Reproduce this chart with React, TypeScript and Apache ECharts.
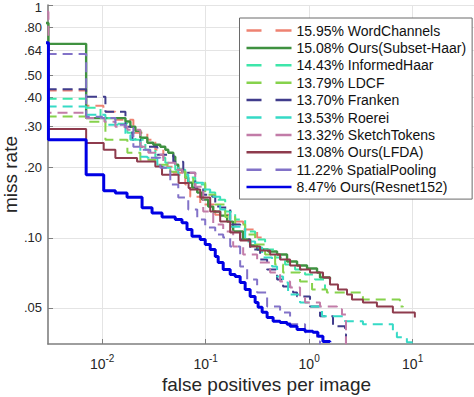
import React, { useEffect, useRef } from "react";
import * as echarts from "echarts";

const FONT = "'Liberation Sans', Arial, Helvetica, sans-serif";

// Methods in legend order, with log-average miss rates
const methods = [
  "WordChannels",
  "Ours(Subset-Haar)",
  "InformedHaar",
  "LDCF",
  "Franken",
  "Roerei",
  "SketchTokens",
  "Ours(LFDA)",
  "SpatialPooling",
  "Ours(Resnet152)",
];
const missRates = ["15.95%", "15.08%", "14.43%", "13.79%", "13.70%", "13.53%", "13.32%", "13.08%", "11.22%", "8.47%"];
const colors = ["#ee8272", "#3f9140", "#3ee6aa", "#86d24c", "#403c8c", "#36dac6", "#c27ca8", "#8e3b4d", "#8272c8", "#0000e4"];
const dashed = [true, false, true, true, true, true, true, false, true, false];
const widths = [2, 2.4, 2, 2, 2, 2, 2, 2, 2, 3];

// [false positives per image, miss rate] stair corners
const wordChannels = [
  [0.001, 0.429], [0.00701, 0.3691], [0.01029, 0.3478], [0.01343, 0.3214], [0.02004, 0.2827], [0.02734, 0.2638],
  [0.03266, 0.239], [0.03902, 0.2209], [0.04264, 0.2021], [0.04872, 0.1905], [0.06357, 0.1693], [0.07104, 0.1503],
  [0.0887, 0.1389], [0.1238, 0.1258], [0.1727, 0.1174], [0.2305, 0.1085], [0.3145, 0.1003], [0.3755, 0.0983],
];
const subsetHaar = [
  [0.001, 0.837], [0.00303, 0.681], [0.00701, 0.3268], [0.0168, 0.3161], [0.01875, 0.2999], [0.02096, 0.2884],
  [0.0234, 0.2692], [0.02734, 0.2562], [0.03124, 0.2512], [0.0365, 0.2461], [0.04077, 0.239], [0.04356, 0.232],
  [0.04872, 0.2231], [0.0509, 0.2062], [0.05445, 0.1963], [0.05947, 0.1924], [0.06357, 0.1814], [0.06797, 0.1726],
  [0.0743, 0.1643], [0.08299, 0.1564], [0.09273, 0.1459], [0.1059, 0.1362], [0.1184, 0.1296], [0.1382, 0.1246],
  [0.1614, 0.1174], [0.1845, 0.1064], [0.2305, 0.0983], [0.2692, 0.0927], [0.3148, 0.0891], [0.4019, 0.0874],
  [0.49, 0.0848], [0.6118, 0.0791], [0.7643, 0.0761], [0.9546, 0.0739], [1.192, 0.071], [1.274, 0.0676], [1.59, 0.0663],
];
const informedHaar = [
  [0.001, 0.3955], [0.00701, 0.3618], [0.00965, 0.3268], [0.01343, 0.309], [0.01754, 0.2827], [0.02095, 0.2638],
  [0.02616, 0.239], [0.03266, 0.2209], [0.04077, 0.2103], [0.0509, 0.1963], [0.06357, 0.1814], [0.07936, 0.1693],
  [0.0991, 0.1564], [0.1238, 0.1459], [0.1545, 0.1296], [0.1929, 0.1198], [0.2409, 0.1064], [0.3008, 0.0983],
  [0.3755, 0.0891], [0.4691, 0.0823], [0.5856, 0.0768], [0.7311, 0.0731], [0.913, 0.0696], [1.14, 0.0663], [1.423, 0.06],
];
const ldcf = [
  [0.001, 0.332], [0.00701, 0.3151], [0.01076, 0.2638], [0.01754, 0.232], [0.0234, 0.2166], [0.03266, 0.2062],
  [0.04556, 0.1924], [0.06357, 0.1814], [0.07591, 0.1726], [0.0991, 0.1533], [0.1238, 0.1389], [0.1545, 0.123],
  [0.1929, 0.114], [0.2409, 0.1033], [0.3008, 0.0936], [0.3755, 0.0848], [0.4691, 0.0768], [0.5601, 0.071],
  [0.817, 0.065], [1.067, 0.06], [1.485, 0.0583], [3.31, 0.0544], [7.527, 0.0507], [8.045, 0.0503],
];
const franken = [
  [0.001, 0.435], [0.00701, 0.4034], [0.01076, 0.3478], [0.0168, 0.2999], [0.0196, 0.2638], [0.0234, 0.2461],
  [0.03414, 0.2275], [0.04872, 0.2124], [0.06081, 0.1905], [0.07936, 0.1643], [0.09482, 0.1533], [0.1158, 0.1503],
  [0.1238, 0.1362], [0.1382, 0.1349], [0.1727, 0.114], [0.2156, 0.0983], [0.2692, 0.0891], [0.336, 0.0807],
  [0.3927, 0.0731], [0.4902, 0.0663], [0.5601, 0.0618], [0.6996, 0.0583], [0.7643, 0.056], [1.02, 0.0507],
  [1.274, 0.046], [1.701, 0.0417], [2.219, 0.0385], [2.269, 0.0349],
];
const roerei = [
  [0.001, 0.3665], [0.00701, 0.3377], [0.01076, 0.3059], [0.0168, 0.2772], [0.01875, 0.2638], [0.0234, 0.2231],
  [0.02734, 0.2209], [0.03414, 0.2062], [0.03902, 0.2001], [0.05442, 0.1867], [0.06796, 0.1726], [0.09482, 0.1611],
  [0.1107, 0.1503], [0.1382, 0.1322], [0.1727, 0.1117], [0.2409, 0.0964], [0.3008, 0.0909], [0.3515, 0.0823],
  [0.4387, 0.0753], [0.4902, 0.0683], [0.5601, 0.0643], [0.626, 0.0571], [0.817, 0.0528], [1.02, 0.0507],
  [1.332, 0.046], [2.219, 0.0438], [3.31, 0.0425], [6.442, 0.0393], [7.041, 0.0374], [8.794, 0.0356], [9.824, 0.0349],
];
const sketchTokens = [
  [0.001, 0.936], [0.00303, 0.3444], [0.00701, 0.3268], [0.01052, 0.3151], [0.01343, 0.2999], [0.01754, 0.2912],
  [0.0234, 0.2461], [0.02795, 0.232], [0.03266, 0.2275], [0.03902, 0.2103], [0.0509, 0.1963], [0.05947, 0.1905],
  [0.07936, 0.1659], [0.09482, 0.1296], [0.1184, 0.114], [0.1478, 0.1064], [0.1845, 0.0918], [0.2305, 0.0848],
  [0.3145, 0.0784], [0.4198, 0.071], [0.524, 0.065], [0.6544, 0.0612], [0.817, 0.056], [0.913, 0.0528],
  [1.274, 0.0507], [1.858, 0.0493], [2.077, 0.0469], [2.269, 0.0349],
];
const lfda = [
  [0.001, 0.2932], [0.00701, 0.2554], [0.01036, 0.239], [0.01343, 0.2203], [0.02175, 0.213], [0.03266, 0.2027],
  [0.03791, 0.1867], [0.05479, 0.1721], [0.06843, 0.1638], [0.07104, 0.1611], [0.0887, 0.1489], [0.1107, 0.1296],
  [0.1382, 0.1174], [0.1727, 0.1054], [0.2156, 0.0973], [0.2692, 0.0918], [0.336, 0.0882], [0.4198, 0.0848],
  [0.524, 0.0807], [0.6544, 0.0761], [0.817, 0.0731], [1.02, 0.071], [1.362, 0.0676], [1.59, 0.0631], [1.9, 0.06],
  [2.321, 0.0571], [2.593, 0.0544], [3.31, 0.0528], [4.517, 0.0507], [6.442, 0.0478], [10.5, 0.0455],
];
const spatialPooling = [
  [0.001, 0.6166], [0.00701, 0.3311], [0.01, 0.3268], [0.01343, 0.3059], [0.0168, 0.297], [0.02004, 0.2461],
  [0.0234, 0.239], [0.02922, 0.2209], [0.03649, 0.2001], [0.04556, 0.1693], [0.05442, 0.1489], [0.06796, 0.1322],
  [0.08299, 0.1198], [0.0991, 0.1107], [0.1238, 0.1033], [0.1478, 0.1003], [0.1727, 0.0918], [0.2156, 0.0753],
  [0.2519, 0.0663], [0.3145, 0.0583], [0.3927, 0.0507], [0.524, 0.0478], [0.6544, 0.0425], [0.913, 0.0393],
  [1.192, 0.0359], [1.274, 0.0349],
];
const resnet152 = [
  [0.001, 0.689], [0.00303, 0.2638], [0.00701, 0.1867], [0.01036, 0.1595], [0.01343, 0.1559], [0.01741, 0.1493],
  [0.02432, 0.1345], [0.03036, 0.128], [0.03793, 0.123], [0.0509, 0.1198], [0.0591, 0.116], [0.0661, 0.1085],
  [0.0738, 0.1016], [0.0887, 0.0983], [0.0991, 0.0936], [0.1107, 0.0891], [0.1239, 0.0832], [0.1322, 0.0784],
  [0.1478, 0.0731], [0.1727, 0.0696], [0.1929, 0.0682], [0.2156, 0.0643], [0.2409, 0.06], [0.2692, 0.056],
  [0.3008, 0.0528], [0.3214, 0.0503], [0.3515, 0.0479], [0.3927, 0.0455], [0.4487, 0.0438], [0.5241, 0.0433],
  [0.6118, 0.0425], [0.6546, 0.0417], [0.7643, 0.0404], [0.9124, 0.0397], [1.088, 0.0393], [1.216, 0.0378],
  [1.359, 0.0359], [1.588, 0.0356],
];
const curves = [wordChannels, subsetHaar, informedHaar, ldcf, franken, roerei, sketchTokens, lfda, spatialPooling, resnet152];

const xTicks = [0.01, 0.1, 1, 10];
const yTicks = [0.05, 0.1, 0.2, 0.3, 0.4, 0.5, 0.64, 0.8, 1];

const SOLID_ICON = "path://M0 0h45v2.5H0z";
const DASH_ICON = "path://M0 0h15v2.5H0zM29 0h16v2.5H29z";

export default function App() {
  const ref = useRef<HTMLDivElement>(null);
  useEffect(() => {
    if (!ref.current) return;
    const chart = echarts.init(ref.current, null, { renderer: "svg" });
    const names = methods.map((m, i) => `${missRates[i]} ${m}`);
    const axisColor = "#7f7f7f";
    const labelColor = "#262626";
    const option: any = {
      animation: false,
      backgroundColor: "#ffffff",
      textStyle: { fontFamily: FONT },
      grid: { left: 48, top: 5, width: 437, height: 339, containLabel: false, outerBoundsMode: "none" },
      xAxis: {
        type: "log",
        logBase: 10,
        min: 0.003,
        max: 50,
        axisLine: { show: true, lineStyle: { color: axisColor, width: 1.6 } },
        axisTick: { show: true, inside: true, length: 5, customValues: xTicks, lineStyle: { color: axisColor, width: 1 } },
        axisLabel: {
          customValues: xTicks,
          margin: 9,
          formatter: (v: number) => `{b|10}{s|${Math.round(Math.log10(v))}}`,
          rich: {
            b: { fontSize: 14, color: labelColor, fontFamily: FONT, verticalAlign: "bottom", lineHeight: 18 },
            s: { fontSize: 10, color: labelColor, fontFamily: FONT, verticalAlign: "top", lineHeight: 10 },
          },
        },
        splitLine: { show: true, lineStyle: { color: "#e4e4e4", width: 1 } },
        minorTick: { show: false },
        name: "false positives per image",
        nameLocation: "middle",
        nameGap: 31,
        nameMoveOverlap: false,
        nameTextStyle: { fontSize: 19, color: labelColor, fontFamily: FONT },
      },
      yAxis: {
        type: "log",
        logBase: 10,
        min: 0.035,
        max: 1,
        axisLine: { show: true, lineStyle: { color: axisColor, width: 1.6 } },
        axisTick: { show: true, inside: true, length: 5, customValues: yTicks, lineStyle: { color: axisColor, width: 1 } },
        axisLabel: {
          customValues: yTicks,
          margin: 6,
          fontSize: 13,
          color: labelColor,
          fontFamily: FONT,
          formatter: (v: number) => (v >= 0.999 ? "{t|1}" : "." + v.toFixed(2).slice(2)),
          rich: {
            t: { fontSize: 13, color: labelColor, fontFamily: FONT, padding: [4, 0, 0, 0] },
          },
        },
        splitLine: { show: true, lineStyle: { color: "#e4e4e4", width: 1 } },
        minorTick: { show: false },
        name: "miss rate",
        nameLocation: "middle",
        nameGap: 28,
        nameMoveOverlap: false,
        nameTextStyle: { fontSize: 19, color: labelColor, fontFamily: FONT, lineHeight: 19 },
      },
      legend: {
        left: 239.5,
        top: 18,
        orient: "vertical",
        selectedMode: false,
        backgroundColor: "#ffffff",
        borderColor: "#6a6a6a",
        borderWidth: 1,
        borderRadius: 0,
        padding: [5.5, 6, 5, 7],
        itemWidth: 45,
        itemHeight: 14,
        itemGap: 3.4,
        textStyle: { fontSize: 14, color: "#111", fontFamily: FONT, lineHeight: 14 },
        data: names.map((n, i) => ({ name: n, icon: dashed[i] ? DASH_ICON : SOLID_ICON })),
      },
      series: curves.map((d, i) => ({
        type: "line",
        name: names[i],
        data: d,
        step: "end",
        symbol: "none",
        showSymbol: false,
        silent: true,
        color: colors[i],
        itemStyle: { color: colors[i] },
        lineStyle: { color: colors[i], width: widths[i], type: dashed[i] ? [10, 6] : "solid" },
        emphasis: { disabled: true },
      })),
    };
    chart.setOption(option);
    return () => chart.dispose();
  }, []);
  return <div ref={ref} style={{ position: "absolute", left: 0, top: 0, width: 474, height: 397 }} />;
}
